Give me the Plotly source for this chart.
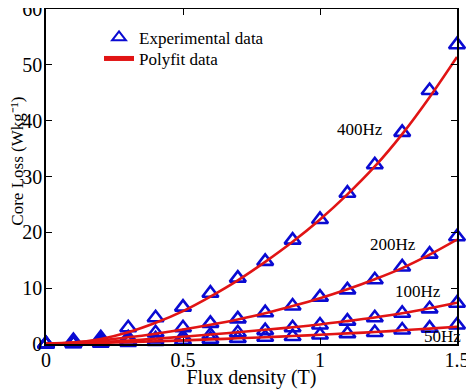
import plotly.graph_objects as go

flux = [0.0, 0.1, 0.2, 0.3, 0.4, 0.5, 0.6, 0.7, 0.8, 0.9, 1.0, 1.1, 1.2, 1.3, 1.4, 1.5]

# Experimental data (W/kg)
exp_50 = [0, 0.05, 0.15, 0.3, 0.45, 0.65, 0.85, 1.0, 1.2, 1.35, 1.6, 1.85, 2.05, 2.5, 2.85, 3.4]
exp_100 = [0, 0.1, 0.3, 0.55, 0.9, 1.25, 1.6, 2.0, 2.4, 2.9, 3.4, 4.1, 4.7, 5.5, 6.3, 7.3]
exp_200 = [0, 0.2, 0.6, 1.1, 2.0, 2.9, 3.7, 4.5, 5.6, 6.8, 8.4, 9.7, 11.5, 13.8, 16.1, 19.2]
exp_400 = [0, 0.6, 1.1, 2.9, 4.7, 6.6, 9.1, 11.8, 14.8, 18.6, 22.3, 27.0, 32.1, 37.9, 45.4, 53.6]

# Polyfit data (W/kg)
fit_50 = [0.05, 0.1, 0.2, 0.32, 0.48, 0.65, 0.83, 1.02, 1.22, 1.43, 1.65, 1.9, 2.15, 2.45, 2.75, 3.1]
fit_100 = [0.05, 0.15, 0.35, 0.6, 0.95, 1.3, 1.7, 2.1, 2.55, 3.0, 3.5, 4.1, 4.75, 5.5, 6.4, 7.4]
fit_200 = [0.05, 0.25, 0.65, 1.2, 1.85, 2.6, 3.45, 4.4, 5.5, 6.8, 8.2, 9.8, 11.6, 13.6, 16.0, 18.7]
fit_400 = [0.05, 0.25, 0.9, 2.1, 3.8, 5.9, 8.5, 11.4, 14.7, 18.3, 22.3, 26.8, 31.8, 37.6, 44.2, 51.4]

freq_labels = ["50Hz", "100Hz", "200Hz", "400Hz"]
label_x = [1.447, 1.358, 1.266, 1.146]
label_y = [1.3, 9.4, 17.8, 38.4]

x_ticks = [0, 0.5, 1, 1.5]
x_ticktext = ["0", "0.5", "1", "1.5"]
y_ticks = [0, 10, 20, 30, 40, 50, 60]

x_title = "Flux density (T)"
y_title = "Core Loss (Wkg\u207b\u00b9)"

FONT = "Liberation Serif, Times New Roman, serif"
BLUE = "rgb(10,10,210)"
RED = "rgb(225,20,20)"

fig = go.Figure()

exps = [exp_50, exp_100, exp_200, exp_400]
fits = [fit_50, fit_100, fit_200, fit_400]

for i, e in enumerate(exps):
    fig.add_trace(go.Scatter(
        x=flux, y=e, mode="markers", name="Experimental data",
        showlegend=(i == 0), legend="legend", cliponaxis=False,
        marker=dict(symbol="triangle-up-open", size=14, color=BLUE,
                    line=dict(width=2.6, color=BLUE)),
    ))

for i, f in enumerate(fits):
    fig.add_trace(go.Scatter(
        x=flux, y=f, mode="lines", name="Polyfit data",
        showlegend=(i == 0), legend="legend2", cliponaxis=False,
        line=dict(color=RED, width=2.6, shape="spline"),
    ))

for t, lx, ly in zip(freq_labels, label_x, label_y):
    fig.add_annotation(x=lx, y=ly, text=t, showarrow=False,
                       font=dict(family=FONT, size=17, color="black"))

# y-axis title as a rotated paper-anchored text (keeps it clear of tick labels)
fig.add_annotation(x=-0.07, y=0.545, xref="paper", yref="paper", text=y_title,
                   textangle=-90, showarrow=False, xanchor="center", yanchor="middle",
                   font=dict(family=FONT, size=17, color="black"))

legend_common = dict(xanchor="left", yanchor="middle", bgcolor="rgba(0,0,0,0)",
                     font=dict(family=FONT, size=17, color="black"),
                     itemsizing="constant", itemwidth=30)

# The page places the figure 8px from the top-left corner, so the
# figure is sized to the visible window minus that offset.
fig.update_layout(
    width=466, height=381,
    margin=dict(l=38, r=17, t=1, b=45, autoexpand=False),
    paper_bgcolor="white", plot_bgcolor="white",
    font=dict(family=FONT, color="black", size=20),
    showlegend=True,
    legend=dict(x=0.129, y=0.914, **legend_common),
    legend2=dict(x=0.129, y=0.851, **legend_common),
)

fig.update_xaxes(
    range=[0, 1.5], tickvals=x_ticks, ticktext=x_ticktext,
    showline=True, linecolor="black", linewidth=1.5, mirror="ticks",
    ticks="inside", ticklen=6, tickcolor="black", showgrid=False, zeroline=False,
    tickfont=dict(family=FONT, size=20), ticklabeloverflow="allow", ticklabelstandoff=-3,
    automargin=False,
    title=dict(text=x_title, font=dict(family=FONT, size=20), standoff=0),
)
fig.update_yaxes(
    range=[0, 60], tickvals=y_ticks,
    showline=True, linecolor="black", linewidth=1.5, mirror="ticks",
    ticks="inside", ticklen=6, tickcolor="black", showgrid=False, zeroline=False,
    tickfont=dict(family=FONT, size=20), ticklabeloverflow="allow", ticklabelstandoff=-2,
    automargin=False,
)

fig.write_html("out.html")
